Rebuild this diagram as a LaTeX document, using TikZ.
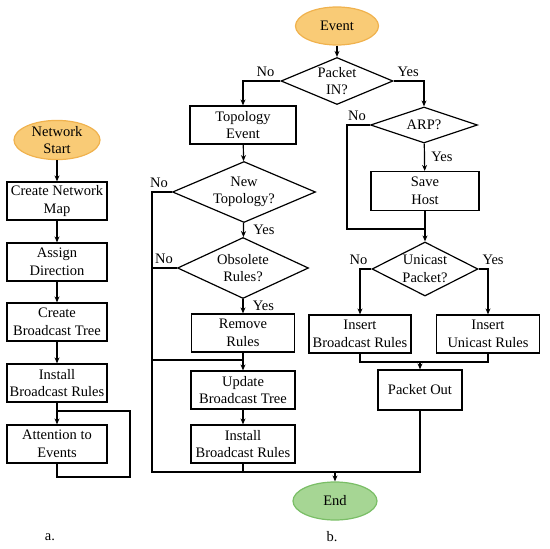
\documentclass[tikz,border=0pt]{standalone}
\usepackage{fontspec}
\setmainfont{Liberation Serif}
\usetikzlibrary{shapes.geometric,arrows.meta}
\definecolor{evorange}{RGB}{249,203,118}
\definecolor{evorangeline}{RGB}{240,178,78}
\definecolor{endgreen}{RGB}{166,214,148}
\definecolor{endgreenline}{RGB}{122,190,102}
\begin{document}
\begin{tikzpicture}[x=1pt, y=-1pt, line width=1.2pt,
        font=\fontsize{14.5}{17.5}\selectfont,
        box/.style={draw, rectangle, align=center, inner sep=2pt, minimum width=102pt, minimum height=38pt},
        decision/.style={draw, diamond, align=center, inner sep=-14pt},
        startev/.style={draw=evorangeline, fill=evorange, ellipse, align=center, inner sep=0pt, minimum width=86pt, minimum height=38pt},
        endev/.style={draw=endgreenline, fill=endgreen, ellipse, inner sep=0pt, minimum width=84pt, minimum height=38pt},
        arr/.style={-{Stealth[length=6pt,width=5pt]}}]
        \useasboundingbox (0,0) rectangle (550,549);

        % a. Khởi động mạng
        \node[startev] (nstart) at (57,140) {Network\\Start};
        \node[box, minimum width=100pt] (netmap) at (57,201) {Create Network\\Map};
        \node[box, minimum width=100pt] (assign) at (57,262) {Assign\\Direction};
        \node[box, minimum width=100pt] (btree) at (57,322) {Create\\Broadcast Tree};
        \node[box, minimum width=100pt] (brules) at (57,383) {Install\\Broadcast Rules};
        \node[box, minimum width=100pt] (attn) at (57,444) {Attention to\\Events};
        \coordinate (loopc) at (130,477);
        \coordinate (loopj) at (57,411);
        \draw[arr] (nstart) -- (netmap);
        \draw[arr] (netmap) -- (assign);
        \draw[arr] (assign) -- (btree);
        \draw[arr] (btree) -- (brules);
        \draw[arr] (brules) -- (attn);
        \draw (attn.south) |- (loopc) |- (loopj);
        \node (capa) at (50,537) {a.};

        % b. Xử lý sự kiện
        \node[startev, minimum width=83pt] (event) at (337,26) {Event};
        \node[decision, minimum width=112pt, minimum height=47pt] (pktin) at (337,81) {Packet\\IN?};
        \node[box, minimum width=106pt] (topo) at (243,125) {Topology\\Event};
        \node[decision, minimum width=143pt, minimum height=61pt] (newtop) at (244,192) {New\\Topology?};
        \node[decision, minimum width=131pt, minimum height=61pt] (obsrules) at (243,268) {Obsolete\\Rules?};
        \node[box, minimum width=103pt] (remove) at (243,333) {Remove\\Rules};
        \node[box, minimum width=104pt] (update) at (243,390) {Update\\Broadcast Tree};
        \node[box, minimum width=104pt] (install) at (243,444) {Install\\Broadcast Rules};

        \node[decision, minimum width=107pt, minimum height=36pt] (arp) at (424,125) {ARP?};
        \node[box, minimum width=108pt, minimum height=39pt] (save) at (425,191) {Save\\Host};
        \node[decision, minimum width=106pt, minimum height=54pt] (unicast) at (425,269) {Unicast\\Packet?};
        \node[box, minimum width=102pt] (insbc) at (360,334) {Insert\\Broadcast Rules};
        \node[box, minimum width=103pt] (insuc) at (488,334) {Insert\\Unicast Rules};
        \node[box, minimum width=84pt, minimum height=40pt] (pout) at (420,390) {Packet Out};
        \node[endev] (endn) at (335,501) {End};
        \node (capb) at (332,537) {b.};

        \coordinate (bleft) at (152,472);
        \coordinate (bmid) at (335,472);
        \coordinate (umerge) at (243,360);
        \coordinate (amerge) at (347,229);
        \coordinate (pmerge) at (420,362);

        % nhánh trái
        \draw[arr] (event) -- (pktin);
        \draw[arr] (pktin.west) -| (topo.north) node[pos=0.2, above] {No};
        \draw[arr] (topo) -- (newtop);
        \draw (newtop.west) node[above left] {No} -| (bleft) -- (bmid);
        \draw[arr] (newtop) -- (obsrules) node[midway, right, xshift=6pt] {Yes};
        \draw (obsrules.west) node[above left] {No} -- (obsrules.west -| bleft);
        \draw[arr] (obsrules) -- (remove) node[midway, right, xshift=6pt] {Yes};
        \draw (umerge -| bleft) -- (umerge);
        \draw[arr] (remove) -- (update);
        \draw[arr] (update) -- (install);
        \draw (install.south) |- (bmid);

        % nhánh phải
        \draw[arr] (pktin.east) -| (arp.north) node[pos=0.24, above] {Yes};
        \draw (arp.west) node[above left] {No} -| (amerge) -- (amerge -| save);
        \draw[arr] (arp) -- (save) node[midway, right, xshift=3pt] {Yes};
        \draw[arr] (save) -- (unicast);
        \draw[arr] (unicast.west) node[above left] {No} -| (insbc.north);
        \draw[arr] (unicast.east) node[above right] {Yes} -| (insuc.north);
        \draw (insbc.south) |- (pmerge);
        \draw (insuc.south) |- (pmerge);
        \draw[arr] (pmerge) -- (pout.north);
        \draw (pout.south) |- (bmid);
        \draw[arr] (bmid) -- (endn.north);
    \end{tikzpicture}
\end{document}
